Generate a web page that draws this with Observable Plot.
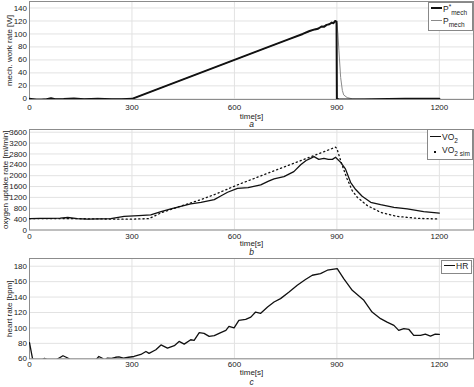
<!DOCTYPE html>
<html><head><meta charset="utf-8">
<script src="https://cdn.jsdelivr.net/npm/d3@7"></script>
<script src="https://cdn.jsdelivr.net/npm/@observablehq/plot@0.6"></script>
<style>
body{margin:0;background:#fff;}
#wrap{position:relative;width:474px;height:387px;overflow:hidden;background:#fff;font-family:"Liberation Sans",Arial,sans-serif;}
#wrap svg{display:block;overflow:visible;}
.leg{position:absolute;border:1px solid #888;background:#fff;font-size:8.5px;color:#222;line-height:1;}
.row{position:absolute;left:2px;height:10px;white-space:nowrap;}
.row .sb{font-size:6.5px;position:relative;top:2.5px;}
.row .sp{font-size:6.5px;position:relative;top:-3px;}
.smp{display:inline-block;width:11px;margin-right:1px;vertical-align:3px;}
</style></head>
<body><div id="wrap"></div>
<script>
// ---- shared ----
const timeTicks = [0, 300, 600, 900, 1200];

// ---- panel a: mechanical work rate ----
const pStarT = [0, 10, 20, 35, 50, 63, 75, 100, 130, 160, 200, 240, 270, 300, 400, 500, 600, 700, 760, 800, 820, 835, 845, 855, 862, 870, 878, 885, 890, 895, 899, 900, 905, 950, 1000, 1100, 1200];
const pStarV = [0, -0.5, -1.5, -1.2, -0.5, 1, -0.5, -0.3, 0.5, -0.5, 0, -0.8, -0.5, 0, 20, 40, 60, 80, 92, 100, 104.5, 107, 108, 111.5, 111, 114, 115, 117.5, 116.5, 120, 119, 0, -0.5, -1, -0.5, 0, 0];
const pMechT = [0, 300, 895, 900, 903, 906, 911, 916, 920, 930, 945, 980, 1040, 1085];
const pMechV = [0, 0, 119, 117, 100, 74, 33, 13, 6, 2, 0, -1, -1.5, -1.5];
const workTicks = [0, 20, 40, 60, 80, 100, 120, 140];

// ---- panel b: oxygen uptake ----
const vo2T = [0, 30, 60, 90, 112, 140, 170, 200, 238, 277, 320, 355, 385, 414, 443, 472, 502, 541, 560, 580, 609, 640, 677, 700, 716, 745, 774, 794, 810, 823, 833, 847, 862, 875, 887, 896, 911, 925, 940, 955, 974, 999, 1028, 1067, 1106, 1154, 1200];
const vo2V = [420, 425, 430, 440, 460, 420, 400, 410, 420, 500, 530, 560, 675, 775, 870, 960, 1020, 1120, 1250, 1390, 1530, 1560, 1660, 1800, 1880, 1965, 2150, 2400, 2560, 2640, 2700, 2600, 2640, 2600, 2600, 2680, 2490, 2250, 1755, 1490, 1240, 1020, 935, 835, 775, 675, 625];
const simT = [0, 100, 200, 250, 300, 350, 385, 443, 502, 541, 609, 700, 800, 896, 900, 915, 930, 945, 960, 989, 1028, 1077, 1135, 1200];
const simV = [420, 420, 410, 400, 400, 420, 630, 880, 1120, 1300, 1660, 2100, 2580, 3050, 3000, 2400, 1880, 1450, 1200, 900, 650, 500, 430, 405];
const vo2Ticks = [0, 400, 800, 1200, 1600, 2000, 2400, 2800, 3200, 3600];

// ---- panel c: heart rate ----
const hrT = [0, 9, 20, 35, 44, 55, 70, 83, 98, 112, 125, 150, 180, 195, 203, 212, 220, 228, 240, 252, 262, 275, 290, 306, 326, 341, 350, 370, 385, 404, 424, 438, 453, 472, 482, 497, 511, 526, 541, 560, 575, 584, 599, 613, 633, 648, 662, 677, 697, 716, 735, 760, 784, 808, 828, 852, 872, 901, 920, 945, 979, 1003, 1028, 1047, 1067, 1081, 1096, 1111, 1125, 1145, 1159, 1174, 1188, 1200];
const hrV = [81, 60, 57, 58, 60.5, 58, 56, 60, 64, 61, 57, 55, 56, 59, 63, 61, 58, 61, 60.5, 62, 62.5, 61, 62, 63, 65.6, 69.5, 67, 71.7, 78, 73.8, 77, 82.5, 79, 84.7, 84, 93.8, 93, 89, 90, 94, 96.8, 102, 100, 109.8, 111, 114, 120.6, 119, 127, 133.6, 138, 146.6, 155.3, 162.7, 168.3, 170.5, 174.8, 177, 164, 148.8, 135.8, 120.6, 112, 107.6, 103.3, 96.8, 99, 98, 90.3, 90.3, 92, 89.5, 92, 91.6];
const hrTicks = [60, 80, 100, 120, 140, 160, 180];

const zip = (T, V) => T.map((t, i) => ({t, v: V[i]}));
const FONT = '"Liberation Sans", Arial, sans-serif';

function panel({height, marginTop, marginBottom, yDomain, yTicks, yLabel, labelDx, letter, lines, tickPad, timeDy, letterDy}) {
  return Plot.plot({
    width: 474, height, marginLeft: 29, marginRight: 1, marginTop, marginBottom,
    style: {fontFamily: FONT, fontSize: "8px", color: "#222", background: "transparent", overflow: "visible"},
    x: {domain: [0, 1300], ticks: timeTicks, tickSize: 0, tickPadding: tickPad, tickFormat: d => String(d), label: null},
    y: {domain: yDomain, ticks: yTicks, tickSize: 0, tickPadding: 2.5, tickFormat: d => String(d), label: null},
    marks: [
      Plot.gridX(timeTicks, {stroke: "#e2e2e2", strokeOpacity: 1}),
      Plot.gridY(yTicks, {stroke: "#e2e2e2", strokeOpacity: 1}),
      Plot.frame({stroke: "#8c8c8c"}),
      ...lines,
      Plot.text([yLabel], {frameAnchor: "left", textAnchor: "middle", lineAnchor: "middle", rotate: -90, dx: labelDx, fontSize: 8, fill: "#222"}),
      Plot.text(["time[s]"], {frameAnchor: "bottom", textAnchor: "middle", lineAnchor: "middle", dy: timeDy, fontSize: 8, fill: "#222"}),
      Plot.text([letter], {frameAnchor: "bottom", textAnchor: "middle", lineAnchor: "middle", dy: letterDy, fontSize: 8.5, fontStyle: "italic", fill: "#222"})
    ]
  });
}

const wrap = document.getElementById("wrap");

wrap.append(panel({
  height: 127, marginTop: 1, marginBottom: 28, yDomain: [-1, 150], yTicks: workTicks,
  yLabel: "mech. work rate [W]", labelDx: -20.5, letter: "a", tickPad: 5, timeDy: 16.5, letterDy: 25,
  lines: [
    Plot.line(zip(pMechT, pMechV), {x: "t", y: "v", stroke: "#8a8a8a", strokeWidth: 1, clip: true}),
    Plot.line(zip(pStarT, pStarV), {x: "t", y: "v", stroke: "#111", strokeWidth: 2, clip: true})
  ]
}));

wrap.append(panel({
  height: 127, marginTop: 2, marginBottom: 24.5, yDomain: [0, 3700], yTicks: vo2Ticks,
  yLabel: "oxygen uptake rate [ml/min]", labelDx: -24.5, letter: "b", tickPad: 3.5, timeDy: 13, letterDy: 22,
  lines: [
    Plot.line(zip(simT, simV), {x: "t", y: "v", stroke: "#111", strokeWidth: 1.3, strokeDasharray: "1.2,3", clip: true}),
    Plot.line(zip(vo2T, vo2V), {x: "t", y: "v", stroke: "#111", strokeWidth: 1.3, clip: true})
  ]
}));

wrap.append(panel({
  height: 133, marginTop: 4, marginBottom: 28.7, yDomain: [60, 190], yTicks: hrTicks,
  yLabel: "heart rate [bpm]", labelDx: -20.5, letter: "c", tickPad: 3, timeDy: 14, letterDy: 23,
  lines: [
    Plot.line(zip(hrT, hrV), {x: "t", y: "v", stroke: "#111", strokeWidth: 1.3, clip: true})
  ]
}));

// legends
function legend(left, top, w, h, rows) {
  const d = document.createElement("div");
  d.className = "leg";
  Object.assign(d.style, {left: left + "px", top: top + "px", width: w + "px", height: h + "px"});
  rows.forEach(r => {
    const row = document.createElement("div");
    row.className = "row";
    row.style.top = r.top + "px";
    row.innerHTML = `<span class="smp" style="border-top:${r.sample}"></span>${r.html}`;
    d.append(row);
  });
  wrap.append(d);
}
legend(428, 2, 43, 27, [
  {top: 2, sample: "2px solid #111", html: "P<span class='sp'>*</span><span class='sb'>mech</span>"},
  {top: 14, sample: "1px solid #8a8a8a", html: "P<span class='sb'>mech</span>"}
]);
legend(427, 129, 44, 29, [
  {top: 3, sample: "1.3px solid #111", html: "VO<span class='sb'>2</span>"},
  {top: 16, sample: "1.3px solid transparent", html: "<span style='position:absolute;left:4px;top:5px;width:1.5px;height:1.5px;background:#111'></span>VO<span class='sb'>2 sim</span>"}
]);
legend(441, 260, 29, 12, [
  {top: 1, sample: "1.3px solid #111", html: "HR"}
]);
</script></body></html>
